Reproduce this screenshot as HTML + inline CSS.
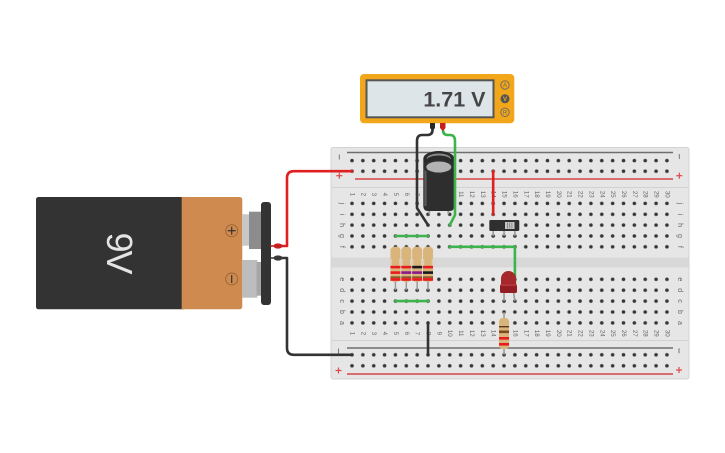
<!DOCTYPE html>
<html><head><meta charset="utf-8">
<style>html,body{margin:0;padding:0;background:#fff;}svg{display:block;}</style>
</head>
<body>
<svg width="725" height="453" viewBox="0 0 725 453" xmlns="http://www.w3.org/2000/svg" font-family="Liberation Sans, Arial, sans-serif">
<defs>
<pattern id="hp" patternUnits="userSpaceOnUse" x="346.57" y="0" width="10.86" height="10"><circle cx="5.43" cy="5" r="1.8" fill="#363636"/></pattern>
<g id="res">
  <rect x="-5" y="0" width="10" height="35" rx="3.5" fill="#d9b57c"/>
  <rect x="-5" y="12" width="1.3" height="10" fill="#e6e6e6" opacity="0.5"/>
  <rect x="3.7" y="12" width="1.3" height="10" fill="#e6e6e6" opacity="0.5"/>
  <rect x="-5" y="29.5" width="10" height="1.8" fill="#8a5a2b"/>
  <rect x="-5" y="31.3" width="10" height="2.7" fill="#e81c1c"/>
</g>
</defs>

<rect x="331" y="147.5" width="358" height="231.5" rx="2" fill="#e6e6e6" stroke="#d3d3d3"/>
<rect x="331.5" y="257.5" width="357" height="10" fill="#d8d8d8"/>
<line x1="331.5" y1="187.5" x2="688.5" y2="187.5" stroke="#d2d2d2"/>
<line x1="331.5" y1="340.5" x2="688.5" y2="340.5" stroke="#d2d2d2"/>

<line x1="347" y1="152.5" x2="673" y2="152.5" stroke="#6e6e6e" stroke-width="1.6"/>
<line x1="355" y1="179" x2="673" y2="179" stroke="#d64545" stroke-width="1.4"/>
<line x1="347" y1="348" x2="673" y2="348" stroke="#6e6e6e" stroke-width="1.6"/>
<line x1="347" y1="374" x2="673" y2="374" stroke="#d64545" stroke-width="1.4"/>

<g stroke="#777" stroke-width="1">
<line x1="339.3" y1="154.5" x2="339.3" y2="159.5"/>
<line x1="679.3" y1="154" x2="679.3" y2="159"/>
<line x1="338.5" y1="348.5" x2="338.5" y2="353.5"/>
<line x1="679" y1="348.3" x2="679" y2="353.3"/>
</g>
<g stroke="#e04848" stroke-width="1.2">
<line x1="336.3" y1="175.7" x2="342.3" y2="175.7"/><line x1="339.3" y1="172.7" x2="339.3" y2="178.7"/>
<line x1="676.3" y1="175.7" x2="682.3" y2="175.7"/><line x1="679.3" y1="172.7" x2="679.3" y2="178.7"/>
<line x1="335.5" y1="370.5" x2="341.5" y2="370.5"/><line x1="338.5" y1="367.5" x2="338.5" y2="373.5"/>
<line x1="676" y1="370" x2="682" y2="370"/><line x1="679" y1="367" x2="679" y2="373"/>
</g>

<g fill="url(#hp)">
<rect x="346.57" y="0" width="325.8" height="10" transform="translate(0,155.6)"/>
<rect x="346.57" y="0" width="325.8" height="10" transform="translate(0,166.2)"/>
<rect x="346.57" y="0" width="325.8" height="10" transform="translate(0,198.4)"/>
<rect x="346.57" y="0" width="325.8" height="10" transform="translate(0,209.3)"/>
<rect x="346.57" y="0" width="325.8" height="10" transform="translate(0,220.1)"/>
<rect x="346.57" y="0" width="325.8" height="10" transform="translate(0,231.0)"/>
<rect x="346.57" y="0" width="325.8" height="10" transform="translate(0,241.8)"/>
<rect x="346.57" y="0" width="325.8" height="10" transform="translate(0,274.3)"/>
<rect x="346.57" y="0" width="325.8" height="10" transform="translate(0,285.2)"/>
<rect x="346.57" y="0" width="325.8" height="10" transform="translate(0,296.1)"/>
<rect x="346.57" y="0" width="325.8" height="10" transform="translate(0,307.0)"/>
<rect x="346.57" y="0" width="325.8" height="10" transform="translate(0,317.9)"/>
<rect x="346.57" y="0" width="325.8" height="10" transform="translate(0,349.8)"/>
<rect x="346.57" y="0" width="325.8" height="10" transform="translate(0,360.8)"/>
</g>

<g font-size="6.2" fill="#666" text-anchor="middle" dominant-baseline="central">
<text transform="translate(352,194.3) rotate(90)">1</text>
<text transform="translate(362.86,194.3) rotate(90)">2</text>
<text transform="translate(373.72,194.3) rotate(90)">3</text>
<text transform="translate(384.58,194.3) rotate(90)">4</text>
<text transform="translate(395.44,194.3) rotate(90)">5</text>
<text transform="translate(406.3,194.3) rotate(90)">6</text>
<text transform="translate(417.16,194.3) rotate(90)">7</text>
<text transform="translate(428.02,194.3) rotate(90)">8</text>
<text transform="translate(438.88,194.3) rotate(90)">9</text>
<text transform="translate(449.74,194.3) rotate(90)">10</text>
<text transform="translate(460.6,194.3) rotate(90)">11</text>
<text transform="translate(471.46,194.3) rotate(90)">12</text>
<text transform="translate(482.32,194.3) rotate(90)">13</text>
<text transform="translate(493.18,194.3) rotate(90)">14</text>
<text transform="translate(504.04,194.3) rotate(90)">15</text>
<text transform="translate(514.9,194.3) rotate(90)">16</text>
<text transform="translate(525.76,194.3) rotate(90)">17</text>
<text transform="translate(536.62,194.3) rotate(90)">18</text>
<text transform="translate(547.48,194.3) rotate(90)">19</text>
<text transform="translate(558.34,194.3) rotate(90)">20</text>
<text transform="translate(569.2,194.3) rotate(90)">21</text>
<text transform="translate(580.06,194.3) rotate(90)">22</text>
<text transform="translate(590.92,194.3) rotate(90)">23</text>
<text transform="translate(601.78,194.3) rotate(90)">24</text>
<text transform="translate(612.64,194.3) rotate(90)">25</text>
<text transform="translate(623.5,194.3) rotate(90)">26</text>
<text transform="translate(634.36,194.3) rotate(90)">27</text>
<text transform="translate(645.22,194.3) rotate(90)">28</text>
<text transform="translate(656.08,194.3) rotate(90)">29</text>
<text transform="translate(666.94,194.3) rotate(90)">30</text>
<text transform="translate(352,333.3) rotate(90)">1</text>
<text transform="translate(362.86,333.3) rotate(90)">2</text>
<text transform="translate(373.72,333.3) rotate(90)">3</text>
<text transform="translate(384.58,333.3) rotate(90)">4</text>
<text transform="translate(395.44,333.3) rotate(90)">5</text>
<text transform="translate(406.3,333.3) rotate(90)">6</text>
<text transform="translate(417.16,333.3) rotate(90)">7</text>
<text transform="translate(428.02,333.3) rotate(90)">8</text>
<text transform="translate(438.88,333.3) rotate(90)">9</text>
<text transform="translate(449.74,333.3) rotate(90)">10</text>
<text transform="translate(460.6,333.3) rotate(90)">11</text>
<text transform="translate(471.46,333.3) rotate(90)">12</text>
<text transform="translate(482.32,333.3) rotate(90)">13</text>
<text transform="translate(493.18,333.3) rotate(90)">14</text>
<text transform="translate(504.04,333.3) rotate(90)">15</text>
<text transform="translate(514.9,333.3) rotate(90)">16</text>
<text transform="translate(525.76,333.3) rotate(90)">17</text>
<text transform="translate(536.62,333.3) rotate(90)">18</text>
<text transform="translate(547.48,333.3) rotate(90)">19</text>
<text transform="translate(558.34,333.3) rotate(90)">20</text>
<text transform="translate(569.2,333.3) rotate(90)">21</text>
<text transform="translate(580.06,333.3) rotate(90)">22</text>
<text transform="translate(590.92,333.3) rotate(90)">23</text>
<text transform="translate(601.78,333.3) rotate(90)">24</text>
<text transform="translate(612.64,333.3) rotate(90)">25</text>
<text transform="translate(623.5,333.3) rotate(90)">26</text>
<text transform="translate(634.36,333.3) rotate(90)">27</text>
<text transform="translate(645.22,333.3) rotate(90)">28</text>
<text transform="translate(656.08,333.3) rotate(90)">29</text>
<text transform="translate(666.94,333.3) rotate(90)">30</text>
</g>

<g font-size="7" fill="#666" text-anchor="middle" dominant-baseline="central">
<text transform="translate(341.5,203.4) rotate(90)">j</text>
<text transform="translate(341.5,214.3) rotate(90)">i</text>
<text transform="translate(341.5,225.1) rotate(90)">h</text>
<text transform="translate(341.5,236) rotate(90)">g</text>
<text transform="translate(341.5,246.8) rotate(90)">f</text>
<text transform="translate(341.5,279.3) rotate(90)">e</text>
<text transform="translate(341.5,290.2) rotate(90)">d</text>
<text transform="translate(341.5,301.1) rotate(90)">c</text>
<text transform="translate(341.5,312) rotate(90)">b</text>
<text transform="translate(341.5,322.9) rotate(90)">a</text>
<text transform="translate(679.5,203.4) rotate(90)">j</text>
<text transform="translate(679.5,214.3) rotate(90)">i</text>
<text transform="translate(679.5,225.1) rotate(90)">h</text>
<text transform="translate(679.5,236) rotate(90)">g</text>
<text transform="translate(679.5,246.8) rotate(90)">f</text>
<text transform="translate(679.5,279.3) rotate(90)">e</text>
<text transform="translate(679.5,290.2) rotate(90)">d</text>
<text transform="translate(679.5,301.1) rotate(90)">c</text>
<text transform="translate(679.5,312) rotate(90)">b</text>
<text transform="translate(679.5,322.9) rotate(90)">a</text>
</g>

<g fill="none" stroke-width="2.6" stroke-linecap="round" stroke-linejoin="round">
<line x1="493.18" y1="171.2" x2="493.18" y2="214.3" stroke="#e02020"/>
<line x1="395.44" y1="236" x2="428.02" y2="236" stroke="#3cb44b"/>
<polyline points="449.74,246.8 514.9,246.8 514.9,285" stroke="#3cb44b"/>
<line x1="395.44" y1="301.1" x2="428.02" y2="301.1" stroke="#3cb44b"/>
<line x1="428.02" y1="322.9" x2="428.02" y2="354.8" stroke="#333"/>
</g>

<g stroke="#9a9a9a" stroke-width="1.5">
<line x1="395.44" y1="280" x2="395.44" y2="290.2"/>
<line x1="406.3" y1="280" x2="406.3" y2="290.2"/>
<line x1="417.16" y1="280" x2="417.16" y2="290.2"/>
<line x1="428.02" y1="280" x2="428.02" y2="290.2"/>
</g>
<g transform="translate(395.44,246.8)"><use href="#res"/><rect x="-5" y="19" width="10" height="2.6" fill="#e81c1c"/><rect x="-5" y="24.5" width="10" height="2.6" fill="#e81c1c"/></g>
<g transform="translate(406.3,246.8)"><use href="#res"/><rect x="-5" y="19" width="10" height="2.6" fill="#e81c1c"/><rect x="-5" y="24.5" width="10" height="2.6" fill="#8b1a8b"/></g>
<g transform="translate(417.16,246.8)"><use href="#res"/><rect x="-5" y="19" width="10" height="2.6" fill="#1a1a1a"/><rect x="-5" y="24.5" width="10" height="2.6" fill="#8b1a8b"/></g>
<g transform="translate(428.02,246.8)"><use href="#res"/><rect x="-5" y="19" width="10" height="2.6" fill="#e81c1c"/><rect x="-5" y="24.5" width="10" height="2.6" fill="#1a1a1a"/></g>

<line x1="504.04" y1="312" x2="504.04" y2="354.8" stroke="#9a9a9a" stroke-width="1.5"/>
<g transform="translate(504.04,318)">
  <rect x="-5" y="0" width="10" height="31" rx="3.5" fill="#d9b57c"/>
  <rect x="-5" y="8" width="10" height="1.4" fill="#5a3a1a"/>
  <rect x="-5" y="12.5" width="10" height="2.6" fill="#7b4b1e"/>
  <rect x="-5" y="19" width="10" height="2.6" fill="#e81c1c"/>
  <rect x="-5" y="25" width="10" height="2.6" fill="#e81c1c"/>
</g>

<g stroke="#9a9a9a" stroke-width="1.6" fill="none">
<line x1="504.04" y1="292" x2="504.04" y2="301.1"/>
<line x1="513.5" y1="292" x2="514.9" y2="301.1"/>
</g>
<path d="M501,292 L501,278.5 A7.5,7.5 0 0 1 516,278.5 L516,292 Z" fill="#a6282c"/>
<rect x="500" y="284.5" width="17" height="8.5" rx="1.5" fill="#921e23"/>
<rect x="500" y="284.5" width="17" height="1.5" fill="#b8383c"/>

<g stroke="#9a9a9a" stroke-width="1.6">
<line x1="493.18" y1="231" x2="493.18" y2="236"/>
<line x1="504.04" y1="231" x2="504.04" y2="236"/>
<line x1="514.9" y1="231" x2="514.9" y2="236"/>
</g>
<rect x="489.3" y="220" width="30" height="11" rx="1.2" fill="#2f2f2f"/>
<rect x="505" y="222" width="9.5" height="7" fill="#c8c8c8"/>
<g stroke="#777" stroke-width="0.8"><line x1="507.5" y1="222.5" x2="507.5" y2="228.5"/><line x1="509.7" y1="222.5" x2="509.7" y2="228.5"/><line x1="511.9" y1="222.5" x2="511.9" y2="228.5"/></g>

<g stroke="#9a9a9a" stroke-width="1.8">
<line x1="429.3" y1="205" x2="429.3" y2="214.3"/>
<line x1="448.3" y1="205" x2="448.3" y2="214.3"/>
</g>
<path d="M423.3,159 L423.3,206 Q423.3,211 428,211 L449.6,211 Q454.3,211 454.3,206 L454.3,159 Z" fill="#2e2e2e"/>
<rect x="424.3" y="170" width="2.3" height="36" fill="#5a5a5a"/>
<ellipse cx="438.8" cy="158.5" rx="15.5" ry="7.5" fill="#2a2a2a"/>
<ellipse cx="438.8" cy="158.5" rx="12" ry="5" fill="#8a8a8a"/>
<ellipse cx="438.8" cy="160" rx="12" ry="4.5" fill="#2a2a2a"/>
<ellipse cx="438.8" cy="167" rx="15.5" ry="7.5" fill="#303030"/>
<ellipse cx="438.8" cy="167" rx="12.5" ry="5.5" fill="#b3b3b3"/>

<g fill="none" stroke-width="2.6" stroke-linecap="round" stroke-linejoin="round">
<path d="M432.5,130 Q432.5,135 427,135 L422,135 Q417,135 417,141 L417,208 L428.02,225.1" stroke="#333"/>
<path d="M443,130 Q443,135 448,135 L450,135 Q455,135 455,141 L455,215 L449.74,225.1" stroke="#3cb44b"/>
</g>

<rect x="360" y="74" width="154.3" height="49.3" rx="4" fill="#f2a71b"/>
<rect x="366.5" y="80.3" width="127" height="37" fill="#dde5e9" stroke="#555" stroke-width="2"/>
<text x="485.5" y="106.7" text-anchor="end" font-size="21.5" font-weight="bold" fill="#454545">1.71 V</text>
<circle cx="505" cy="85" r="4.2" fill="none" stroke="#666" stroke-width="0.9"/>
<text x="505" y="87.2" text-anchor="middle" font-size="6" fill="#666">A</text>
<circle cx="505" cy="98.8" r="4.5" fill="#555"/>
<text x="505" y="101" text-anchor="middle" font-size="6" fill="#f2a71b" font-weight="bold">V</text>
<circle cx="505" cy="112.3" r="4.2" fill="none" stroke="#666" stroke-width="0.9"/>
<text x="505" y="114.5" text-anchor="middle" font-size="6" fill="#666">R</text>
<path d="M430,123 L435,123 L435,128 L432.5,131 L430,128 Z" fill="#2a2a2a"/>
<path d="M440,123 L445.5,123 L445.5,128 L442.8,131 L440,128 Z" fill="#c42020"/>

<g fill="none" stroke-width="2.6" stroke-linecap="round" stroke-linejoin="round">
<path d="M282,246 L287,246 L287,178 Q287,171.2 294,171.2 L352,171.2" stroke="#e02020"/>
<path d="M282,258 L287,258 L287,348 Q287,354.8 294,354.8 L352,354.8" stroke="#333"/>
</g>

<rect x="36" y="197" width="150" height="112.3" rx="2.5" fill="#333333"/>
<path d="M181.7,197 L239.5,197 Q242.3,197 242.3,200 L242.3,306.3 Q242.3,309.3 239.5,309.3 L181.7,309.3 Z" fill="#cf8b4f"/>
<text transform="translate(120,252.5) rotate(90)" x="0" y="12.8" text-anchor="middle" font-size="36" letter-spacing="-2" fill="#e4e4e4">9V</text>
<circle cx="231.7" cy="230.7" r="6" fill="none" stroke="#9a6232" stroke-width="0.9"/>
<line x1="227.7" y1="230.7" x2="235.7" y2="230.7" stroke="#333" stroke-width="1.2"/>
<line x1="231.7" y1="226.7" x2="231.7" y2="234.7" stroke="#333" stroke-width="1.2"/>
<circle cx="231.7" cy="279" r="6" fill="none" stroke="#9a6232" stroke-width="0.9"/>
<line x1="231.7" y1="275" x2="231.7" y2="283" stroke="#333" stroke-width="1.2"/>
<rect x="242.3" y="214.3" width="8" height="31.4" fill="#c8c8c8"/>
<rect x="249" y="211.7" width="12.5" height="37.3" fill="#8c8c8c"/>
<rect x="242.3" y="260" width="15" height="37.7" fill="#bdbdbd"/>
<rect x="256.5" y="262" width="5" height="33.7" fill="#a6a6a6"/>
<rect x="261" y="202" width="10" height="103" rx="3" fill="#333"/>
<line x1="270" y1="246" x2="283" y2="246" stroke="#b01818" stroke-width="1.5"/>
<ellipse cx="278" cy="246" rx="4.5" ry="2.6" fill="#c62020"/>
<line x1="270" y1="258" x2="283" y2="258" stroke="#333" stroke-width="1.5"/>
<ellipse cx="278" cy="258" rx="4.5" ry="2.6" fill="#3a3a3a"/>
</svg>
</body>
</html>
